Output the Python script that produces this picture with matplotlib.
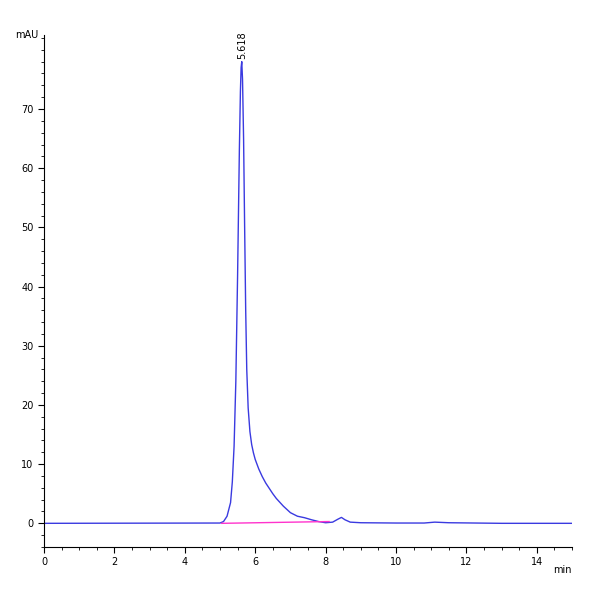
import matplotlib
matplotlib.use("Agg")
import matplotlib.pyplot as plt
from matplotlib.ticker import MultipleLocator, FixedLocator

time_min = [0, 5.0, 5.1, 5.2, 5.3, 5.35, 5.4, 5.45, 5.5, 5.55, 5.58, 5.6, 5.618, 5.64, 5.67, 5.7, 5.73, 5.76, 5.8, 5.85, 5.9, 5.95,
            6.0, 6.1, 6.2, 6.3, 6.4, 6.5, 6.6, 6.8, 7.0, 7.2, 7.4, 7.6, 7.8, 8.0, 8.2, 8.35, 8.45, 8.55, 8.7,
            9.0, 10.0, 10.8, 11.1, 11.5, 13.0, 15.0]
signal_mau = [0, 0.05, 0.3, 1.2, 3.5, 7, 13, 24, 42, 63, 73, 77, 78, 75, 65, 50, 36, 26, 19.5, 15.5, 13.3, 11.9,
              10.8, 9.2, 7.9, 6.8, 5.9, 5.0, 4.2, 2.9, 1.8, 1.2, 0.95, 0.6, 0.3, 0.1, 0.2, 0.7, 1.0, 0.6, 0.2,
              0.1, 0.05, 0.05, 0.2, 0.1, 0.0, 0.0]
baseline_t = [5.05, 8.1]
baseline_v = [0.0, 0.3]
peak_label = "5.618"
peak_t, peak_v = 5.618, 78
y_major = [0, 10, 20, 30, 40, 50, 60, 70]

fig = plt.figure(figsize=(6, 6), dpi=100)
ax = fig.add_axes([44/600, 53/600, 528/600, 512/600])
ax.plot(time_min, signal_mau, color="#3a3ae0", lw=1)
ax.plot(baseline_t, baseline_v, color="#ff33cc", lw=1)
ax.text(peak_t, peak_v + 0.5, peak_label, rotation=90, ha="center", va="bottom", fontsize=7)
ax.set_xlim(0, 15)
ax.set_ylim(-4, 82.5)
for s in ["top", "right"]:
    ax.spines[s].set_visible(False)
ax.xaxis.set_major_locator(MultipleLocator(2))
ax.xaxis.set_minor_locator(MultipleLocator(0.5))
ax.yaxis.set_major_locator(FixedLocator(y_major))
ax.yaxis.set_minor_locator(MultipleLocator(2))
ax.tick_params(labelsize=7, length=4, width=0.8)
ax.tick_params(which="minor", length=2)
ax.text(-0.01, 1.0, "mAU", transform=ax.transAxes, ha="right", va="center", fontsize=7)
ax.text(1.0, -0.045, "min", transform=ax.transAxes, ha="right", va="center", fontsize=7)
fig.savefig("out.png", dpi=100)
